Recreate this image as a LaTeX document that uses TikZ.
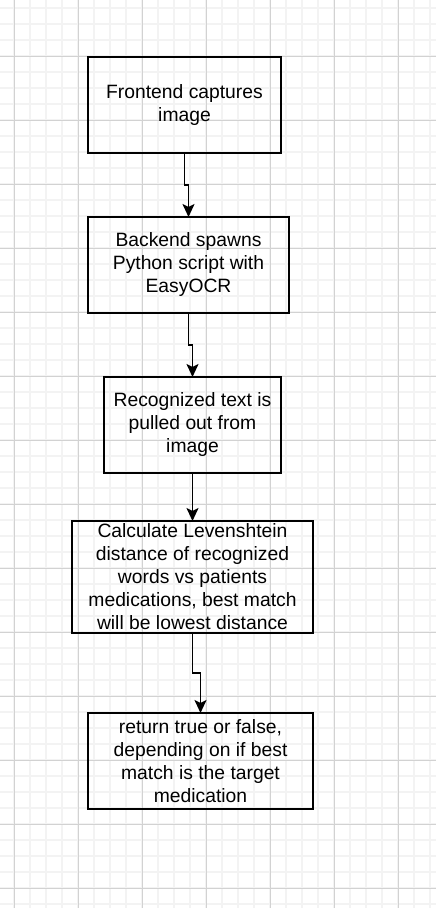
\documentclass[tikz,border=0pt]{standalone}
\usepackage{fontspec}
\setmainfont{Liberation Sans}
\usepackage{xcolor}
\usetikzlibrary{arrows.meta,positioning}

\definecolor{gridminor}{HTML}{F3F3F3}
\definecolor{gridmajor}{HTML}{D2D2D2}

\begin{document}
\begin{tikzpicture}[x=1pt,y=-1pt,font=\fontsize{19.3}{23}\selectfont,>={Stealth[length=13pt,width=12pt,inset=3pt]}]
\useasboundingbox (0,0) rectangle (436,908);
\fill[white] (0,0) rectangle (436,908);
% background grid
\foreach \i in {-2,...,28} \draw[gridminor,line width=1.6pt] (14+16*\i,0) -- (14+16*\i,908);
\foreach \i in {-1,...,57} \draw[gridminor,line width=1.6pt] (0,8+16*\i) -- (436,8+16*\i);
\foreach \i in {0,...,6} \draw[gridmajor,line width=1pt] (14+64*\i,0) -- (14+64*\i,908);
\foreach \i in {0,...,14} \draw[gridmajor,line width=1pt] (0,-8+64*\i) -- (436,-8+64*\i);
% steps
\node[draw,line width=1.6pt,outer sep=0pt,align=center,inner sep=0pt,minimum width=193pt,minimum height=96pt] (capture) at (184.5,105) {Frontend captures\\image};
\node[draw,line width=1.6pt,outer sep=0pt,align=center,inner sep=0pt,minimum width=201pt,minimum height=96pt,below=64pt of capture,xshift=4pt] (spawn) {Backend spawns\\Python script with\\EasyOCR};
\node[draw,line width=1.6pt,outer sep=0pt,align=center,inner sep=0pt,minimum width=177pt,minimum height=96pt,below=64pt of spawn,xshift=4pt] (ocr) {Recognized text is\\pulled out from\\image};
\node[draw,line width=1.6pt,outer sep=0pt,align=center,inner sep=0pt,minimum width=241pt,minimum height=112pt,below=48pt of ocr] (lev) {Calculate Levenshtein\\distance of recognized\\words vs patients\\medications, best match\\will be lowest distance};
\node[draw,line width=1.6pt,outer sep=0pt,align=center,inner sep=0pt,minimum width=225pt,minimum height=96pt,below=80pt of lev,xshift=8pt] (result) {return true or false,\\depending on if best\\match is the target\\medication};
\draw[->,line width=1.8pt] (capture.south) -- ++(0,32) -| (spawn.north);
\draw[->,line width=1.8pt] (spawn.south) -- ++(0,32) -| (ocr.north);
\draw[->,line width=1.8pt] (ocr.south) -- (lev.north);
\draw[->,line width=1.8pt] (lev.south) -- ++(0,40) -| (result.north);
\end{tikzpicture}
\end{document}
